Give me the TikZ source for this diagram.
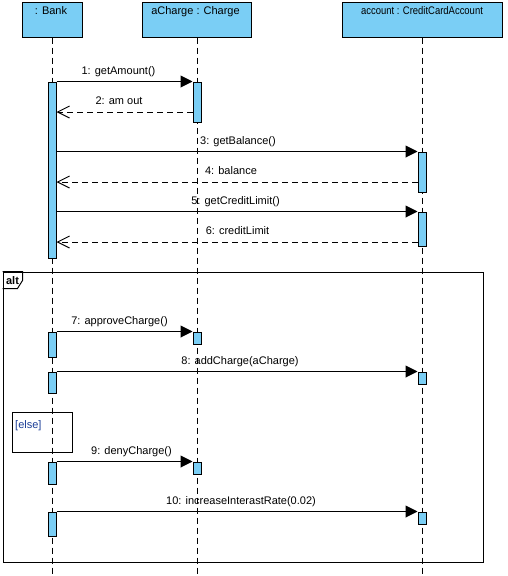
\documentclass[tikz,border=0pt]{standalone}
\usepackage{fontspec}
\setmainfont{Liberation Sans}
\newfontfamily\narrowfont[FakeStretch=0.86]{Liberation Sans}
\usetikzlibrary{arrows.meta}
\definecolor{lifeblue}{RGB}{122,206,245}
\definecolor{elseblue}{RGB}{25,60,150}
\tikzset{
	head/.style={draw, line width=1pt, fill=lifeblue, minimum height=35, inner sep=0},
	act/.style={draw, line width=1pt, fill=lifeblue, minimum width=8, inner sep=0},
	lifeline/.style={line width=1pt, dash pattern=on 6pt off 4pt},
	call/.style={line width=1pt, -{Triangle[length=12pt,width=12pt]}},
	reply/.style={line width=1pt, dash pattern=on 6pt off 4pt, -{Straight Barb[length=12pt,width=12pt,line width=1pt]}},
	frame/.style={draw, line width=1pt, inner sep=0},
	txt/.style={anchor=base, inner sep=0, font=\fontsize{11}{13}\selectfont}
}
\def\act(#1)(#2,#3,#4){\node[act, minimum height=#4] (#1) at (#2, #3) {};}

\begin{document}
\begin{tikzpicture}[x=1pt, y=-1pt]
			%%%%% START %%%%%
			\useasboundingbox (0, 0) rectangle (507, 576);
			
			\node[head, minimum width=60] (bank) at (52, 19.5) {};
			\node[head, minimum width=109] (charge) at (197, 19.5) {};
			\node[head, minimum width=160] (account) at (422, 19.5) {};
			\node[txt] (bankt) at (51, 14) {: Bank};
			\node[txt] (charget) at (195.5, 14) {aCharge : Charge};
			\node[txt, font=\fontsize{11}{13}\narrowfont] (accountt) at (422, 14) {account : CreditCardAccount};
			
			\coordinate (bankend) at (52, 576);
			\coordinate (chargeend) at (197, 576);
			\coordinate (accountend) at (422, 576);
			\draw[lifeline] (bank) -- (bankend);
			\draw[lifeline] (charge) -- (chargeend);
			\draw[lifeline] (account) -- (accountend);
			
			\act(b1)(52, 170, 176)
			\act(c1)(197, 102, 40)
			\act(a1)(422, 172, 40)
			\act(a2)(422, 229, 34)
			
			\coordinate (m2) at (0, 112);
			\coordinate (m4) at (0, 182);
			\coordinate (m6) at (0, 242);
			
			\draw[call] (b1.north east) -- (c1.north west);
			\node[txt] (l1) at (118.5, 74) {1: getAmount()};
			\draw[reply] (c1.west |- m2) -- (b1.east |- m2);
			\node[txt] (l2) at (119, 104) {2: am out};
			\draw[call] (b1.east |- a1.north) -- (a1.north west);
			\node[txt] (l3) at (238, 144) {3: getBalance()};
			\draw[reply] (a1.west |- m4) -- (b1.east |- m4);
			\node[txt] (l4) at (231, 174) {4: balance};
			\draw[call] (b1.east |- a2.north) -- (a2.north west);
			\node[txt] (l5) at (235.5, 204) {5: getCreditLimit()};
			\draw[reply] (a2.west |- m6) -- (b1.east |- m6);
			\node[txt] (l6) at (237.5, 234) {6: creditLimit};
			
			% alt frame
			\node[frame, minimum width=480, minimum height=290] (altf) at (243, 417) {};
			\draw[line width=1pt] (altf.north west) -- ++(20, 0) -- ++(0, 9) -- ++(-5, 8) -- ++(-15, 0);
			\node[txt] (altt) at (12.5, 284) {\bfseries alt};
			
			\act(b2)(52, 344.5, 25)
			\act(c2)(197, 338, 12)
			\draw[call] (b2.north east) -- (c2.north west);
			\node[txt] (l7) at (119.5, 324) {7: approveCharge()};
			
			\act(b3)(52, 382.5, 21)
			\act(a3)(422, 378, 12)
			\draw[call] (b3.north east) -- (a3.north west);
			\node[txt] (l8) at (240, 364) {8: addCharge(aCharge)};
			
			\node[frame, minimum width=60, minimum height=40] (elsebox) at (42, 432) {};
			\node[txt, anchor=base west, text=elseblue] (elset) at (15, 428) {[else]};
			
			\act(b4)(52, 473, 22)
			\act(c3)(197, 468, 12)
			\draw[call] (b4.north east) -- (c3.north west);
			\node[txt] (l9) at (131.5, 454) {9: denyCharge()};
			
			\act(b5)(52, 524, 24)
			\act(a4)(422, 518, 12)
			\draw[call] (b5.north east) -- (a4.north west);
			\node[txt] (l10) at (241, 504) {10: increaseInterastRate(0.02)};
			%%%%% END %%%%%
		\end{tikzpicture}
\end{document}
